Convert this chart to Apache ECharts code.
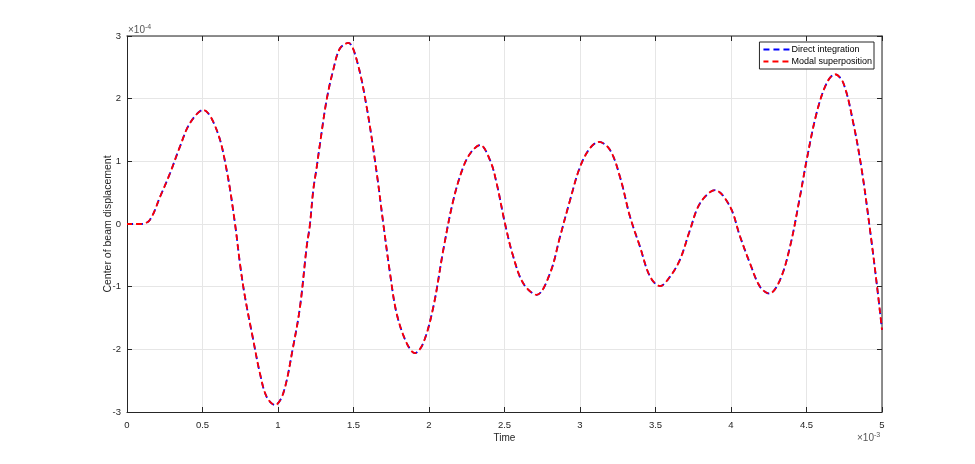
<!DOCTYPE html>
<html>
<head>
<meta charset="utf-8">
<script src="https://cdn.jsdelivr.net/npm/echarts@6/dist/echarts.min.js"></script>
<style>
html,body{margin:0;padding:0;background:#fff;}
#chart{width:975px;height:464px;}
</style>
</head>
<body>
<div id="chart"></div>
<script>
// Time in units of 1e-3, displacement in units of 1e-4
var timeValues = [0.00,0.05,0.09,0.15,0.22,0.285,0.35,0.417,0.505,0.594,0.66,0.715,0.748,0.781,0.836,0.88,0.925,0.98,1.035,1.10,1.146,1.19,1.21,1.234,1.256,1.278,1.322,1.366,1.41,1.466,1.521,1.587,1.654,1.697,1.742,1.786,1.852,1.907,1.962,2.029,2.095,2.161,2.227,2.28,2.338,2.404,2.448,2.503,2.558,2.625,2.713,2.801,2.868,2.934,3.0,3.066,3.126,3.199,3.265,3.331,3.397,3.464,3.53,3.596,3.662,3.728,3.795,3.894,3.993,4.06,4.126,4.192,4.254,4.325,4.391,4.457,4.501,4.567,4.634,4.689,4.744,4.81,4.866,4.921,4.965,5.0];
var directValues = [0,0,0.0,0.06,0.44,0.81,1.23,1.61,1.82,1.50,0.86,0.01,-0.63,-1.16,-1.85,-2.38,-2.76,-2.89,-2.70,-1.96,-1.32,-0.36,-0.04,0.55,0.90,1.28,1.98,2.46,2.80,2.89,2.62,1.87,0.81,0.01,-0.79,-1.43,-1.90,-2.06,-1.90,-1.32,-0.41,0.38,0.91,1.15,1.26,1.02,0.65,0.01,-0.52,-0.95,-1.13,-0.79,-0.20,0.38,0.91,1.21,1.31,1.18,0.75,0.12,-0.36,-0.84,-0.99,-0.84,-0.57,-0.10,0.33,0.54,0.28,-0.20,-0.63,-1.0,-1.11,-0.89,-0.36,0.44,1.02,1.77,2.25,2.39,2.25,1.61,0.86,-0.10,-0.95,-1.69];
var modalValues = [0,0,0.0,0.06,0.44,0.81,1.23,1.61,1.82,1.50,0.86,0.01,-0.63,-1.16,-1.85,-2.38,-2.76,-2.89,-2.70,-1.96,-1.32,-0.36,-0.04,0.55,0.90,1.28,1.98,2.46,2.80,2.89,2.62,1.87,0.81,0.01,-0.79,-1.43,-1.90,-2.06,-1.90,-1.32,-0.41,0.38,0.91,1.15,1.26,1.02,0.65,0.01,-0.52,-0.95,-1.13,-0.79,-0.20,0.38,0.91,1.21,1.31,1.18,0.75,0.12,-0.36,-0.84,-0.99,-0.84,-0.57,-0.10,0.33,0.54,0.28,-0.20,-0.63,-1.0,-1.11,-0.89,-0.36,0.44,1.02,1.77,2.25,2.39,2.25,1.61,0.86,-0.10,-0.95,-1.69];
var xTickLabels = ['0','0.5','1','1.5','2','2.5','3','3.5','4','4.5','5'];
var yTickLabels = {'-3':'-3','-2':'-2','-1':'-1','0':'0','1':'1','2':'2','3':'3'};
var seriesNames = ['Direct integration','Modal superposition'];

function pairs(vals){ return timeValues.map(function(t,i){return [t, vals[i]];}); }

var FONT = 'Liberation Sans, Arial, sans-serif';
var AXC = '#262626';
var BOXC = '#6a6a6a';
var chart = echarts.init(document.getElementById('chart'), null, {renderer:'canvas'});
var baseX = {
  type:'value', min:0, max:5, interval:0.5,
  axisLine:{show:true, onZero:false, lineStyle:{color:AXC, width:1}},
  axisTick:{show:true, inside:true, length:5, lineStyle:{color:AXC}},
  splitLine:{show:false}
};
var baseY = {
  type:'value', min:-3, max:3, interval:1,
  axisLine:{show:true, onZero:false, lineStyle:{color:AXC, width:1}},
  axisTick:{show:true, inside:true, length:5, lineStyle:{color:AXC}},
  splitLine:{show:false}
};
chart.setOption({
  animation:false,
  backgroundColor:'#fff',
  grid:{left:127, right:93, top:36, bottom:52, containLabel:false},
  xAxis:[
    Object.assign({}, baseX, {
      position:'bottom',
      name:'Time', nameLocation:'middle', nameGap:21, nameMoveOverlap:false,
      nameTextStyle:{fontFamily:FONT, fontSize:10, color:AXC},
      axisLabel:{fontFamily:FONT, fontSize:9.5, color:AXC, margin:8,
        formatter:function(v){ return xTickLabels[Math.round(v/0.5)]; }},
      splitLine:{show:true, lineStyle:{color:'#e6e6e6', width:1}}
    }),
    Object.assign({}, baseX, {position:'top', axisLabel:{show:false},
      axisLine:{show:true, onZero:false, lineStyle:{color:BOXC, width:1.5}}})
  ],
  yAxis:[
    Object.assign({}, baseY, {
      position:'left',
      name:'Center of beam displacement', nameLocation:'middle', nameGap:13, nameMoveOverlap:false,
      nameTextStyle:{fontFamily:FONT, fontSize:10.5, color:AXC},
      axisLabel:{fontFamily:FONT, fontSize:9.5, color:AXC, margin:6,
        formatter:function(v){ return yTickLabels[String(Math.round(v))]; }},
      splitLine:{show:true, lineStyle:{color:'#e6e6e6', width:1}}
    }),
    Object.assign({}, baseY, {position:'right', axisLabel:{show:false},
      axisLine:{show:true, onZero:false, lineStyle:{color:BOXC, width:1.5}}})
  ],
  legend:{
    show:true, orient:'vertical', top:42, right:101,
    data:seriesNames,
    backgroundColor:'#fff', borderColor:AXC, borderWidth:1, borderRadius:0,
    padding:[3,2,3,3], itemGap:3, itemWidth:29, itemHeight:10,
    itemStyle:{opacity:0},
    textStyle:{fontFamily:FONT, fontSize:9, color:'#000', padding:[0,0,0,-6]}
  },
  series:[
    {name:seriesNames[0], type:'line', xAxisIndex:0, yAxisIndex:0,
     data:pairs(directValues), smooth:0.35, symbol:'none', showSymbol:false,
     lineStyle:{color:'#0000ff', width:1.8, type:[6,4]}, itemStyle:{color:'#0000ff'}, z:2},
    {name:seriesNames[1], type:'line', xAxisIndex:0, yAxisIndex:0,
     data:pairs(modalValues), smooth:0.35, symbol:'none', showSymbol:false,
     lineStyle:{color:'#ff0000', width:1.8, type:[6,4], dashOffset:1}, itemStyle:{color:'#ff0000'}, z:3}
  ],
  graphic:[
    {type:'text', left:128, top:24, style:{
      text:'{a|\u00d710}{s|-4}', fontFamily:FONT, fill:AXC,
      rich:{a:{fontSize:10, fontFamily:FONT, fill:'#555'}, s:{fontSize:7, fontFamily:FONT, fill:'#555', verticalAlign:'top', padding:[0,0,6,0]}}}},
    {type:'text', left:857, top:432, style:{
      text:'{a|\u00d710}{s|-3}', fontFamily:FONT, fill:AXC,
      rich:{a:{fontSize:10, fontFamily:FONT, fill:'#555'}, s:{fontSize:7, fontFamily:FONT, fill:'#555', verticalAlign:'top', padding:[0,0,6,0]}}}}
  ]
});
</script>
</body>
</html>
